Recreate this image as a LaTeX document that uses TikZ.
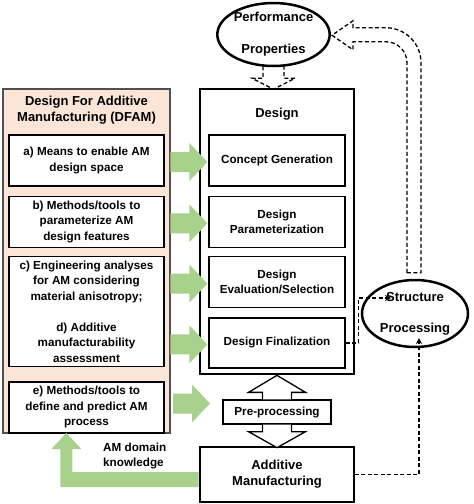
\documentclass[tikz,border=0pt]{standalone}
\usepackage{fontspec}
\setmainfont{Liberation Sans}
\usetikzlibrary{positioning,calc,arrows.meta,shapes.geometric}
\definecolor{dfamfill}{RGB}{251,229,214}
\definecolor{dfamline}{RGB}{80,80,80}
\definecolor{feedgreen}{RGB}{169,209,142}

\begin{document}
\begin{tikzpicture}
[x=1pt,y=-1pt,
box/.style={draw,line width=1.3pt,fill=white,inner sep=0pt,align=center,
  font=\bfseries\fontsize{11.7}{15.5}\selectfont},
lbox/.style={box,minimum width=155pt,minimum height=51pt},
rbox/.style={box,minimum width=136pt,minimum height=51pt},
title/.style={inner sep=0pt,align=center,font=\bfseries\fontsize{13}{16}\selectfont},
big/.style={box,font=\bfseries\fontsize{13}{16}\selectfont},
oval/.style={ellipse,draw,line width=2.5pt,inner sep=0pt,align=center,
  font=\bfseries\fontsize{13}{16}\selectfont},
feed/.style={fill=feedgreen},
link/.style={line width=1.3pt,dash pattern=on 4pt off 2.5pt,-{Stealth[length=6pt,width=6pt]}},
back/.style={line width=1.3pt,dash pattern=on 4pt off 2.5pt,line join=miter},
hollow/.style={draw,line width=1.3pt,fill=white,line join=miter}]
\useasboundingbox (0,0) rectangle (474,504);
% left column
\node [draw=dfamline,line width=2pt,fill=dfamfill,minimum width=167pt,minimum height=344pt] (dfam) at (86.5,261) {};
\node [title] (dfamtitle) at (86.5,110) {Design For Additive\\Manufacturing (DFAM)};
\node [lbox] (a) at (86.5,160.5) {a) Means to enable AM\\design space};
\node [lbox,below=9pt of a] (b) {b) Methods/tools to\\parameterize AM\\design features};
\node [lbox,minimum height=110pt,below=8pt of b] (cd) {c) Engineering analyses\\for AM considering\\material anisotropy;\\[15.5pt]d) Additive\\manufacturability\\assessment};
\node [lbox,below=14pt of cd] (e) {e) Methods/tools to\\define and predict AM\\process};
% design column
\node [draw,line width=1.3pt,minimum width=154pt,minimum height=285pt] (design) at (277,231.5) {};
\node [title] (designtitle) at (277,114) {Design};
\node [rbox] (concept) at (277,160.5) {Concept Generation};
\node [rbox,below=9pt of concept] (param) {Design\\Parameterization};
\node [rbox,below=8pt of param] (eval) {Design\\Evaluation/Selection};
\node [rbox,minimum height=50pt,below=9pt of eval] (final) {Design Finalization};
\node [box,minimum width=108pt,minimum height=24pt] (pre) at (277,412) {Pre-processing};
\node [big,minimum width=154pt,minimum height=55pt] (am) at (277,474.5) {Additive\\Manufacturing};
% ellipses
\node [oval,minimum width=110pt,minimum height=63pt] (perf) at (273.5,34.5) {Performance\\[16pt]Properties};
\node [oval,minimum width=106pt,minimum height=67pt] (struct) at (415,313.5) {Structure\\[15pt]Processing};
\node [align=left,inner sep=0pt,anchor=west,font=\bfseries\fontsize{11.7}{14.5}\selectfont] (know) at (103,456) {AM domain\\knowledge};
% green arrows
\coordinate (etip) at (211,402);
\foreach \tip in {concept.west,param.west,eval.west,final.west,etip}
  \fill [feed] (\tip) ++(-1,1.5) -- ++(-18,-19) -- ++(0,9) -- ++(-19,0) -- ++(0,20)
    -- ++(19,0) -- ++(0,9) -- cycle;
\fill [feed] (am.west) ++(-0.7,-2.5) -- ++(-126.3,0) -- ++(0,-23) -- ++(9,0) -- ++(-15,-16)
  -- ++(-15,16) -- ++(9,0) -- ++(0,38) -- ++(138.3,0) -- cycle;
% hollow arrows
\draw [hollow] (pre.north) ++(-14.5,0) -- ++(0,-7) -- ++(-14,0) -- ++(28.5,-17) -- ++(28.5,17)
  -- ++(-14,0) -- ++(0,7);
\draw [hollow] (pre.south) ++(-14.5,0) -- ++(0,7) -- ++(-14,0) -- ++(28.5,16) -- ++(28.5,-16)
  -- ++(-14,0) -- ++(0,-7);
\draw [back] (perf.south) ++(-10.5,-1) -- ++(0,12) -- ++(-11,0) -- ++(21.5,11) -- ++(21.5,-11)
  -- ++(-11,0) -- ++(0,-12);
\draw [back] (struct.north) ++(-8,-6) -- ++(0,-210) .. controls +(0,-11.6) and +(11.6,0) .. ++(-21,-21)
  -- ++(-33,0) -- ++(0,8) -- ++(-21,-14.5) -- ++(21,-14.5) -- ++(0,7) -- ++(33,0)
  .. controls +(19.3,0) and +(0,-19.3) .. ++(35,35) -- ++(0,210) -- cycle;
% dashed links
\coordinate (sin) at (391,298);
\coordinate (pin) at (419,338);
\draw [link] (final.east) -- ++(13,0) |- (sin);
\draw [link] (am.east) -| (pin);
\end{tikzpicture}
\end{document}
